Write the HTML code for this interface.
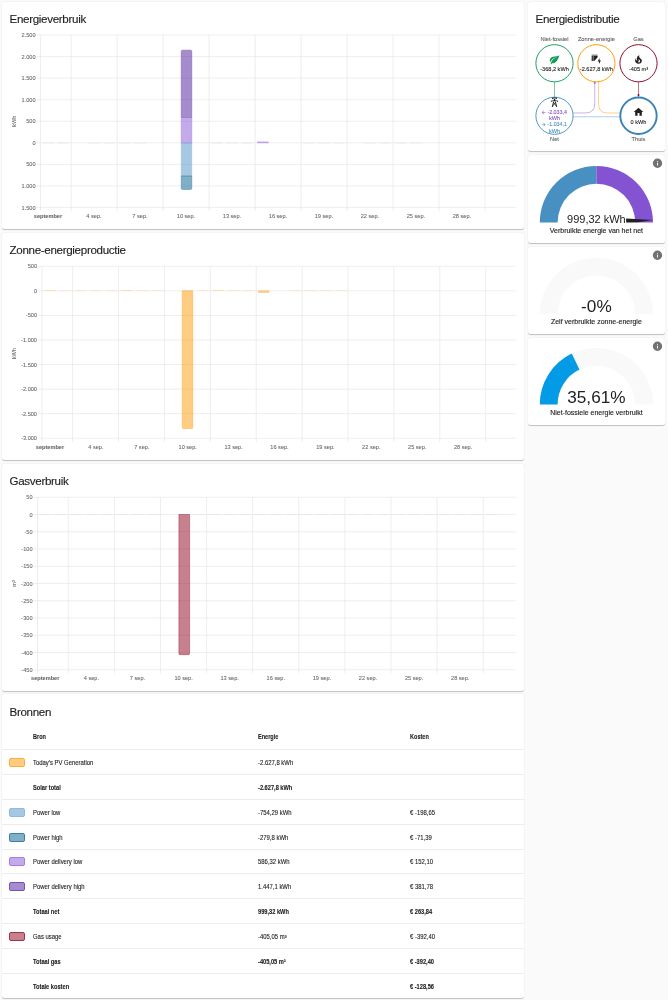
<!DOCTYPE html>
<html lang="nl">
<head>
<meta charset="utf-8">
<title>Energie</title>
<style>
html,body{margin:0;padding:0;}
body{width:668px;height:1000px;overflow:hidden;background:#fafafa;position:relative;
 font-family:"Liberation Sans",Arial,sans-serif;color:#212121;}
.card{position:absolute;background:#fff;border-radius:2px;
 box-shadow:0 0.9px 0.6px -0.5px rgba(0,0,0,.17),0 .5px .6px 0 rgba(0,0,0,.12),0 .5px 1.5px 0 rgba(0,0,0,.11);}
.card svg{position:absolute;left:0;top:0;overflow:visible;}
h1{position:absolute;margin:0;font-weight:400;font-size:11.6px;line-height:14px;white-space:nowrap;
 letter-spacing:-0.32px;color:#212121;-webkit-text-stroke:.12px #212121;}
svg text{font-family:"Liberation Sans",Arial,sans-serif;}
.tick{font-size:5.6px;fill:#666;stroke:#666;stroke-width:.07px;}
.grid{stroke:#dfdfdf;stroke-width:.55;fill:none;}
.lbl{font-size:5.7px;fill:#5f5f5f;stroke:#5f5f5f;stroke-width:.1px;}
.val{font-size:5.6px;fill:#212121;stroke:#212121;stroke-width:.1px;}
.gl{font-size:7px;fill:#212121;stroke:#212121;stroke-width:.12px;}
table{position:absolute;border-collapse:separate;border-spacing:0;table-layout:fixed;font-size:6.3px;color:#212121;-webkit-text-stroke:.1px #212121;}
td span.t,th span.t{display:inline-block;transform-origin:0 50%;transform:scaleX(.94);}
td,th{padding:0;border-top:1px solid #ededed;text-align:left;vertical-align:middle;white-space:nowrap;overflow:visible;box-sizing:border-box;}
thead th{border-top:none;font-weight:700;}
thead th span.t{transform:scaleX(.88);}
tr.tot td{font-weight:700;}
tr.tot td span.t{transform:scaleX(.9);}
.sw{display:block;box-sizing:border-box;width:16px;height:9px;border-radius:2px;border:1px solid;margin-left:7px;}
</style>
</head>
<body>

<div class="card" style="left:2px;top:2px;width:522px;height:227px">
<h1 style="left:7.5px;top:10.3px">Energieverbruik</h1>
<svg width="522" height="227" viewBox="2 2 522 227">
<path class="grid" d="M37 35H515.5"/>
<path class="grid" d="M37 56.56H515.5"/>
<path class="grid" d="M37 78.12H515.5"/>
<path class="grid" d="M37 99.69H515.5"/>
<path class="grid" d="M37 121.25H515.5"/>
<path class="grid" d="M37 142.81H515.5"/>
<path class="grid" d="M37 164.38H515.5"/>
<path class="grid" d="M37 185.94H515.5"/>
<path class="grid" d="M37 207.5H515.5"/>
<path class="grid" d="M40.5 35V211"/>
<path class="grid" d="M71.16 35V211"/>
<path class="grid" d="M117.15 35V211"/>
<path class="grid" d="M163.14 35V211"/>
<path class="grid" d="M209.13 35V211"/>
<path class="grid" d="M255.12 35V211"/>
<path class="grid" d="M301.11 35V211"/>
<path class="grid" d="M347.1 35V211"/>
<path class="grid" d="M393.09 35V211"/>
<path class="grid" d="M439.08 35V211"/>
<path class="grid" d="M485.07 35V211"/>
<text class="tick" x="35.5" y="37" text-anchor="end">2.500</text>
<text class="tick" x="35.5" y="58.56" text-anchor="end">2.000</text>
<text class="tick" x="35.5" y="80.12" text-anchor="end">1.500</text>
<text class="tick" x="35.5" y="101.69" text-anchor="end">1.000</text>
<text class="tick" x="35.5" y="123.25" text-anchor="end">500</text>
<text class="tick" x="35.5" y="144.81" text-anchor="end">0</text>
<text class="tick" x="35.5" y="166.38" text-anchor="end">500</text>
<text class="tick" x="35.5" y="187.94" text-anchor="end">1.000</text>
<text class="tick" x="35.5" y="209.5" text-anchor="end">1.500</text>
<text class="tick" transform="translate(15.6 121.25) rotate(-90)" text-anchor="middle">kWh</text>
<text class="tick" x="48" y="217.75" text-anchor="middle" font-weight="700">september</text>
<text class="tick" x="93.99" y="217.75" text-anchor="middle">4 sep.</text>
<text class="tick" x="139.98" y="217.75" text-anchor="middle">7 sep.</text>
<text class="tick" x="185.97" y="217.75" text-anchor="middle">10 sep.</text>
<text class="tick" x="231.96" y="217.75" text-anchor="middle">13 sep.</text>
<text class="tick" x="277.95" y="217.75" text-anchor="middle">16 sep.</text>
<text class="tick" x="323.94" y="217.75" text-anchor="middle">19 sep.</text>
<text class="tick" x="369.93" y="217.75" text-anchor="middle">22 sep.</text>
<text class="tick" x="415.92" y="217.75" text-anchor="middle">25 sep.</text>
<text class="tick" x="461.91" y="217.75" text-anchor="middle">28 sep.</text>
<path d="M181.25 51.4Q181.25 50.2 182.45 50.2H190.55Q191.75 50.2 191.75 51.4V117.5H181.25Z" fill="rgba(75,25,155,.5)" stroke="#7850b9" stroke-width="0.5"/>
<path d="M181.25 117.5H191.75V143H181.25Z" fill="rgba(135,85,215,.5)" stroke="#a57de1" stroke-width="0.5"/>
<path d="M181.25 143H191.75V176H181.25Z" fill="rgba(77,145,197,.5)" stroke="#8fbbdc" stroke-width="0.5"/>
<path d="M181.25 176H191.75V188.2Q191.75 189.4 190.55 189.4H182.45Q181.25 189.4 181.25 188.2Z" fill="rgba(5,95,145,.5)" stroke="#3782aa" stroke-width="0.5"/>
<rect x="257.6" y="141.9" width="10.8" height="1.1" fill="#c3aaeb" stroke="#a57de1" stroke-width=".3"/>
<rect x="42.5" y="142.8" width="11" height=".5" fill="#e3dbf0"/>
<rect x="57.83" y="142.8" width="11" height=".5" fill="#e3dbf0"/>
<rect x="88.49" y="142.8" width="11" height=".5" fill="#e3dbf0"/>
<rect x="103.82" y="142.8" width="11" height=".5" fill="#e3dbf0"/>
<rect x="119.15" y="142.8" width="11" height=".5" fill="#e3dbf0"/>
<rect x="134.48" y="142.8" width="11" height=".5" fill="#e3dbf0"/>
<rect x="211.13" y="142.8" width="11" height=".5" fill="#e3dbf0"/>
<rect x="226.46" y="142.8" width="11" height=".5" fill="#e3dbf0"/>
<rect x="241.79" y="142.8" width="11" height=".5" fill="#e3dbf0"/>
<rect x="303.11" y="142.8" width="11" height=".5" fill="#e3dbf0"/>
<rect x="318.44" y="142.8" width="11" height=".5" fill="#e3dbf0"/>
<rect x="333.77" y="142.8" width="11" height=".5" fill="#e3dbf0"/>
<rect x="364.43" y="142.8" width="11" height=".5" fill="#e3dbf0"/>
<rect x="379.76" y="142.8" width="11" height=".5" fill="#e3dbf0"/>
<rect x="395.09" y="142.8" width="11" height=".5" fill="#e3dbf0"/>
<rect x="410.42" y="142.8" width="11" height=".5" fill="#e3dbf0"/>
</svg></div>
<div class="card" style="left:2px;top:233px;width:522px;height:227px">
<h1 style="left:7.5px;top:10.3px">Zonne-energieproductie</h1>
<svg width="522" height="227" viewBox="2 233 522 227">
<path class="grid" d="M38 266.25H515.5"/>
<path class="grid" d="M38 290.82H515.5"/>
<path class="grid" d="M38 315.39H515.5"/>
<path class="grid" d="M38 339.96H515.5"/>
<path class="grid" d="M38 364.53H515.5"/>
<path class="grid" d="M38 389.1H515.5"/>
<path class="grid" d="M38 413.67H515.5"/>
<path class="grid" d="M38 438.24H515.5"/>
<path class="grid" d="M42 266.25V442"/>
<path class="grid" d="M72.6 266.25V442"/>
<path class="grid" d="M118.5 266.25V442"/>
<path class="grid" d="M164.4 266.25V442"/>
<path class="grid" d="M210.3 266.25V442"/>
<path class="grid" d="M256.2 266.25V442"/>
<path class="grid" d="M302.1 266.25V442"/>
<path class="grid" d="M348 266.25V442"/>
<path class="grid" d="M393.9 266.25V442"/>
<path class="grid" d="M439.8 266.25V442"/>
<path class="grid" d="M485.7 266.25V442"/>
<text class="tick" x="37" y="268.25" text-anchor="end">500</text>
<text class="tick" x="37" y="292.82" text-anchor="end">0</text>
<text class="tick" x="37" y="317.39" text-anchor="end">-500</text>
<text class="tick" x="37" y="341.96" text-anchor="end">-1.000</text>
<text class="tick" x="37" y="366.53" text-anchor="end">-1.500</text>
<text class="tick" x="37" y="391.1" text-anchor="end">-2.000</text>
<text class="tick" x="37" y="415.67" text-anchor="end">-2.500</text>
<text class="tick" x="37" y="440.24" text-anchor="end">-3.000</text>
<text class="tick" transform="translate(15.6 353.75) rotate(-90)" text-anchor="middle">kWh</text>
<text class="tick" x="50" y="449" text-anchor="middle" font-weight="700">september</text>
<text class="tick" x="95.9" y="449" text-anchor="middle">4 sep.</text>
<text class="tick" x="141.8" y="449" text-anchor="middle">7 sep.</text>
<text class="tick" x="187.7" y="449" text-anchor="middle">10 sep.</text>
<text class="tick" x="233.6" y="449" text-anchor="middle">13 sep.</text>
<text class="tick" x="279.5" y="449" text-anchor="middle">16 sep.</text>
<text class="tick" x="325.4" y="449" text-anchor="middle">19 sep.</text>
<text class="tick" x="371.3" y="449" text-anchor="middle">22 sep.</text>
<text class="tick" x="417.2" y="449" text-anchor="middle">25 sep.</text>
<text class="tick" x="463.1" y="449" text-anchor="middle">28 sep.</text>
<path d="M182.25 290.75H192.75V427.4Q192.75 428.6 191.55 428.6H183.45Q182.25 428.6 182.25 427.4Z" fill="rgba(255,155,5,.5)" stroke="#ffaa3c" stroke-width="0.5"/>
<path d="M258.25 290.75H269V292Q269 292.5 268.5 292.5H258.75Q258.25 292.5 258.25 292Z" fill="#ffcd82" stroke="#ffaa3c" stroke-width="0.3"/>
<rect x="44.5" y="290.2" width="11" height=".6" fill="#ffd089" opacity="1"/>
<rect x="59.8" y="290.2" width="11" height=".6" fill="#ffd089" opacity="0.5"/>
<rect x="75.1" y="290.2" width="11" height=".6" fill="#ffd089" opacity="0.5"/>
<rect x="90.4" y="290.2" width="11" height=".6" fill="#ffd089" opacity="0.5"/>
<rect x="105.7" y="290.2" width="11" height=".6" fill="#ffd089" opacity="0.5"/>
<rect x="121" y="290.2" width="11" height=".6" fill="#ffd089" opacity="1"/>
<rect x="136.3" y="290.2" width="11" height=".6" fill="#ffd089" opacity="0.5"/>
<rect x="151.6" y="290.2" width="11" height=".6" fill="#ffd089" opacity="0.5"/>
<rect x="197.5" y="290.2" width="11" height=".6" fill="#ffd089" opacity="0.5"/>
<rect x="212.8" y="290.2" width="11" height=".6" fill="#ffd089" opacity="1"/>
<rect x="228.1" y="290.2" width="11" height=".6" fill="#ffd089" opacity="0.5"/>
<rect x="243.4" y="290.2" width="11" height=".6" fill="#ffd089" opacity="0.5"/>
<rect x="289.3" y="290.2" width="11" height=".6" fill="#ffd089" opacity="0.5"/>
<rect x="304.6" y="290.2" width="11" height=".6" fill="#ffd089" opacity="0.5"/>
<rect x="319.9" y="290.2" width="11" height=".6" fill="#ffd089" opacity="0.5"/>
<rect x="335.2" y="290.2" width="11" height=".6" fill="#ffd089" opacity="0.5"/>
</svg></div>
<div class="card" style="left:2px;top:463.75px;width:522px;height:227px">
<h1 style="left:7.5px;top:10.05px">Gasverbruik</h1>
<svg width="522" height="227" viewBox="2 463.75 522 227">
<path class="grid" d="M33.5 497H515.5"/>
<path class="grid" d="M33.5 514.25H515.5"/>
<path class="grid" d="M33.5 531.5H515.5"/>
<path class="grid" d="M33.5 548.75H515.5"/>
<path class="grid" d="M33.5 566H515.5"/>
<path class="grid" d="M33.5 583.25H515.5"/>
<path class="grid" d="M33.5 600.5H515.5"/>
<path class="grid" d="M33.5 617.75H515.5"/>
<path class="grid" d="M33.5 635H515.5"/>
<path class="grid" d="M33.5 652.25H515.5"/>
<path class="grid" d="M33.5 669.5H515.5"/>
<path class="grid" d="M37.5 497V673"/>
<path class="grid" d="M68.24 497V673"/>
<path class="grid" d="M114.35 497V673"/>
<path class="grid" d="M160.46 497V673"/>
<path class="grid" d="M206.57 497V673"/>
<path class="grid" d="M252.68 497V673"/>
<path class="grid" d="M298.79 497V673"/>
<path class="grid" d="M344.9 497V673"/>
<path class="grid" d="M391.01 497V673"/>
<path class="grid" d="M437.12 497V673"/>
<path class="grid" d="M483.23 497V673"/>
<text class="tick" x="32.5" y="499" text-anchor="end">50</text>
<text class="tick" x="32.5" y="516.25" text-anchor="end">0</text>
<text class="tick" x="32.5" y="533.5" text-anchor="end">-50</text>
<text class="tick" x="32.5" y="550.75" text-anchor="end">-100</text>
<text class="tick" x="32.5" y="568" text-anchor="end">-150</text>
<text class="tick" x="32.5" y="585.25" text-anchor="end">-200</text>
<text class="tick" x="32.5" y="602.5" text-anchor="end">-250</text>
<text class="tick" x="32.5" y="619.75" text-anchor="end">-300</text>
<text class="tick" x="32.5" y="637" text-anchor="end">-350</text>
<text class="tick" x="32.5" y="654.25" text-anchor="end">-400</text>
<text class="tick" x="32.5" y="671.5" text-anchor="end">-450</text>
<text class="tick" transform="translate(15.6 583.25) rotate(-90)" text-anchor="middle">m³</text>
<text class="tick" x="45.25" y="680" text-anchor="middle" font-weight="700">september</text>
<text class="tick" x="91.36" y="680" text-anchor="middle">4 sep.</text>
<text class="tick" x="137.47" y="680" text-anchor="middle">7 sep.</text>
<text class="tick" x="183.58" y="680" text-anchor="middle">10 sep.</text>
<text class="tick" x="229.69" y="680" text-anchor="middle">13 sep.</text>
<text class="tick" x="275.8" y="680" text-anchor="middle">16 sep.</text>
<text class="tick" x="321.91" y="680" text-anchor="middle">19 sep.</text>
<text class="tick" x="368.02" y="680" text-anchor="middle">22 sep.</text>
<text class="tick" x="414.13" y="680" text-anchor="middle">25 sep.</text>
<text class="tick" x="460.24" y="680" text-anchor="middle">28 sep.</text>
<path d="M178.9 514.25H189.6V653.2Q189.6 654.4 188.4 654.4H180.1Q178.9 654.4 178.9 653.2Z" fill="rgba(143,1,27,.5)" stroke="#a53246" stroke-width="0.5"/>
<rect x="39.75" y="514" width="11" height=".5" fill="#ecd5d9" opacity=".8"/>
<rect x="55.12" y="514" width="11" height=".5" fill="#ecd5d9" opacity=".8"/>
<rect x="70.49" y="514" width="11" height=".5" fill="#ecd5d9" opacity=".8"/>
<rect x="85.86" y="514" width="11" height=".5" fill="#ecd5d9" opacity=".8"/>
<rect x="101.23" y="514" width="11" height=".5" fill="#ecd5d9" opacity=".8"/>
<rect x="116.6" y="514" width="11" height=".5" fill="#ecd5d9" opacity=".8"/>
<rect x="131.97" y="514" width="11" height=".5" fill="#ecd5d9" opacity=".8"/>
<rect x="147.34" y="514" width="11" height=".5" fill="#ecd5d9" opacity=".8"/>
<rect x="193.45" y="514" width="11" height=".5" fill="#ecd5d9" opacity=".8"/>
<rect x="208.82" y="514" width="11" height=".5" fill="#ecd5d9" opacity=".8"/>
<rect x="224.19" y="514" width="11" height=".5" fill="#ecd5d9" opacity=".8"/>
<rect x="239.56" y="514" width="11" height=".5" fill="#ecd5d9" opacity=".8"/>
<rect x="254.93" y="514" width="11" height=".5" fill="#ecd5d9" opacity=".8"/>
<rect x="270.3" y="514" width="11" height=".5" fill="#ecd5d9" opacity=".8"/>
<rect x="285.67" y="514" width="11" height=".5" fill="#ecd5d9" opacity=".8"/>
<rect x="301.04" y="514" width="11" height=".5" fill="#ecd5d9" opacity=".8"/>
<rect x="316.41" y="514" width="11" height=".5" fill="#ecd5d9" opacity=".8"/>
<rect x="331.78" y="514" width="11" height=".5" fill="#ecd5d9" opacity=".8"/>
<rect x="347.15" y="514" width="11" height=".5" fill="#ecd5d9" opacity=".8"/>
<rect x="362.52" y="514" width="11" height=".5" fill="#ecd5d9" opacity=".8"/>
<rect x="377.89" y="514" width="11" height=".5" fill="#ecd5d9" opacity=".8"/>
<rect x="393.26" y="514" width="11" height=".5" fill="#ecd5d9" opacity=".8"/>
<rect x="408.63" y="514" width="11" height=".5" fill="#ecd5d9" opacity=".8"/>
<rect x="424" y="514" width="11" height=".5" fill="#ecd5d9" opacity=".8"/>
<rect x="439.37" y="514" width="11" height=".5" fill="#ecd5d9" opacity=".8"/>
<rect x="454.74" y="514" width="11" height=".5" fill="#ecd5d9" opacity=".8"/>
<rect x="470.11" y="514" width="11" height=".5" fill="#ecd5d9" opacity=".8"/>
<rect x="485.48" y="514" width="11" height=".5" fill="#ecd5d9" opacity=".8"/>
</svg></div>
<div class="card" style="left:2px;top:694px;width:522px;height:304px">
<h1 style="left:7.5px;top:11px">Bronnen</h1>
<table style="left:0;top:30px;width:522px"><colgroup><col style="width:31px"><col style="width:225.25px"><col style="width:151.75px"><col></colgroup>
<thead><tr style="height:25px"><th></th><th><span class="t">Bron</span></th><th><span class="t">Energie</span></th><th><span class="t">Kosten</span></th></tr></thead><tbody>
<tr style="height:25px"><td><span class="sw" style="background:#ffcd82;border-color:#ffaa3c"></span></td><td><span class="t">Today's PV Generation</span></td><td><span class="t">-2.627,8 kWh</span></td><td></td></tr>
<tr class="tot" style="height:25px"><td></td><td><span class="t">Solar total</span></td><td><span class="t">-2.627,8 kWh</span></td><td></td></tr>
<tr style="height:25px"><td><span class="sw" style="background:#a6c8e2;border-color:#8fbbdc"></span></td><td><span class="t">Power low</span></td><td><span class="t">-754,29 kWh</span></td><td><span class="t">€ -198,65</span></td></tr>
<tr style="height:25px"><td><span class="sw" style="background:#82afc8;border-color:#3782aa"></span></td><td><span class="t">Power high</span></td><td><span class="t">-279,8 kWh</span></td><td><span class="t">€ -71,39</span></td></tr>
<tr style="height:24px"><td><span class="sw" style="background:#c3aaeb;border-color:#a57de1"></span></td><td><span class="t">Power delivery low</span></td><td><span class="t">586,32 kWh</span></td><td><span class="t">€ 152,10</span></td></tr>
<tr style="height:25px"><td><span class="sw" style="background:#a58ccd;border-color:#7850b9"></span></td><td><span class="t">Power delivery high</span></td><td><span class="t">1.447,1 kWh</span></td><td><span class="t">€ 381,78</span></td></tr>
<tr class="tot" style="height:25px"><td></td><td><span class="t">Totaal net</span></td><td><span class="t">999,32 kWh</span></td><td><span class="t">€ 263,84</span></td></tr>
<tr style="height:25px"><td><span class="sw" style="background:#c7808d;border-color:#a53246"></span></td><td><span class="t">Gas usage</span></td><td><span class="t">-405,05 m³</span></td><td><span class="t">€ -392,40</span></td></tr>
<tr class="tot" style="height:25px"><td></td><td><span class="t">Totaal gas</span></td><td><span class="t">-405,05 m³</span></td><td><span class="t">€ -392,40</span></td></tr>
<tr class="tot" style="height:25px"><td></td><td><span class="t">Totale kosten</span></td><td></td><td><span class="t">€ -128,56</span></td></tr>
</tbody></table></div>
<div class="card" style="left:528px;top:2px;width:136.8px;height:149.25px">
<h1 style="left:7.5px;top:10.3px">Energiedistributie</h1>
<svg width="136.8" height="149.25" viewBox="528 2 136.8 149.25">
<text class="lbl" x="554.5" y="41" text-anchor="middle">Niet-fossiel</text>
<text class="lbl" x="596.4" y="41" text-anchor="middle">Zonne-energie</text>
<text class="lbl" x="638.5" y="41" text-anchor="middle">Gas</text>
<text class="lbl" x="554.5" y="141" text-anchor="middle">Net</text>
<text class="lbl" x="638.5" y="141" text-anchor="middle">Thuis</text>
<path d="M554.5 81.85V97.15" stroke="#0f9d58" stroke-width=".55" fill="none"/>
<path d="M638.5 81.85V97.15" stroke="#8e021b" stroke-width=".55" fill="none"/>
<circle cx="638.5" cy="95" r="1" fill="#8e021b"/>
<path d="M594.75 81.85V103.5Q594.75 113 585.5 113H573.1" stroke="#8353d1" stroke-width=".55" fill="none" opacity=".8"/>
<circle cx="594.75" cy="82.8" r=".9" fill="#8353d1"/>
<path d="M598.5 81.85V103.5Q598.5 113 607.5 113H619.9" stroke="#ff9800" stroke-width=".55" fill="none" opacity=".85"/>
<path d="M573.1 116.75H619.9" stroke="#488fc2" stroke-width=".55" fill="none" opacity=".8"/>
<circle cx="554.5" cy="63.25" r="18.6" fill="#fff" stroke="#0f9d58" stroke-width=".95"/>
<circle cx="596.4" cy="63.25" r="18.6" fill="#fff" stroke="#ff9800" stroke-width=".95"/>
<circle cx="638.5" cy="63.25" r="18.6" fill="#fff" stroke="#8e021b" stroke-width=".95"/>
<circle cx="554.5" cy="115.75" r="18.6" fill="#fff" stroke="#488fc2" stroke-width=".95"/>
<circle cx="638.5" cy="115.75" r="18.200000000000003" fill="#fff" stroke="#3a82b8" stroke-width="1.9"/>
<path transform="translate(548.8 53.8) scale(0.4750)" d="M17,8C8,10 5.9,16.17 3.82,21.34L5.71,22L6.66,19.7C7.14,19.87 7.64,20 8,20C19,20 22,3 22,3C21,5 14,5.25 9,6.25C4,7.25 2,11.5 2,13.5C2,15.5 3.75,17.25 3.75,17.25C7,8 17,8 17,8Z" fill="#0f9d58"/>
<path transform="translate(590.7 53.8) scale(0.4750)" d="M2,2H14.6V3.6H2ZM2,4.6H4.6V15H2ZM5.6,4.6H14.6V7.5L7.5,15H5.6ZM18.6,8.8L14.6,16.2H17.4V21.5L21.6,14H18.6Z" fill="#212121"/>
<path transform="translate(632.8 53.8) scale(0.4750)" d="M17.66 11.2C17.43 10.9 17.15 10.64 16.89 10.38C16.22 9.78 15.46 9.35 14.82 8.72C13.33 7.26 13 4.85 13.95 3C13 3.23 12.17 3.75 11.46 4.32C8.87 6.4 7.85 10.07 9.07 13.22C9.11 13.32 9.15 13.42 9.15 13.55C9.15 13.77 9 13.97 8.8 14.05C8.57 14.15 8.33 14.09 8.14 13.93C8.08 13.88 8.04 13.83 8 13.76C6.87 12.33 6.69 10.28 7.45 8.64C5.78 10 4.87 12.3 5 14.47C5.06 14.97 5.12 15.47 5.29 15.97C5.43 16.57 5.7 17.17 6 17.7C7.08 19.43 8.95 20.67 10.96 20.92C13.1 21.19 15.39 20.8 17.03 19.32C18.86 17.66 19.5 15 18.56 12.72L18.43 12.46C18.22 12 17.66 11.2 17.66 11.2M14.5 17.5C14.22 17.74 13.76 18 13.4 18.1C12.28 18.5 11.16 17.94 10.5 17.28C11.69 17 12.4 16.12 12.61 15.23C12.78 14.43 12.46 13.77 12.33 13C12.21 12.26 12.23 11.63 12.5 10.94C12.69 11.32 12.89 11.7 13.13 12C13.9 13 15.11 13.44 15.37 14.8C15.41 14.94 15.43 15.08 15.43 15.23C15.46 16.05 15.1 16.95 14.5 17.5H14.5Z" fill="#212121"/>
<path transform="translate(548.8 96.6) scale(0.4750)" d="M8.28,5.45L6.5,4.55L7.76,2H16.23L17.5,4.55L15.72,5.44L15,4H9L8.28,5.45M18.62,8H14.09L13.3,5H10.7L9.91,8H5.38L4.1,10.55L5.89,11.44L6.62,10H17.38L18.1,11.45L19.89,10.56L18.62,8M17.77,22H15.7L15.46,21.1L12,15.9L8.53,21.1L8.3,22H6.23L9.12,11H11.19L10.83,12.35L12,14.1L13.16,12.35L12.81,11H14.88L17.77,22M11.4,15L10.5,13.65L9.32,18.13L11.4,15M14.68,18.12L13.5,13.64L12.6,15L14.68,18.12Z" fill="#212121"/>
<path transform="translate(632.8 106.3) scale(0.4750)" d="M10,20V14H14V20H19V12H22L12,3L2,12H5V20H10Z" fill="#212121"/>
<text class="val" x="554.5" y="70.8" text-anchor="middle">-368,2 kWh</text>
<text class="val" x="596.4" y="70.8" text-anchor="middle">-2.627,8 kWh</text>
<text class="val" x="638.5" y="70.8" text-anchor="middle">-405 m³</text>
<text class="val" x="638.5" y="123.8" text-anchor="middle">0 kWh</text>
<path transform="translate(540.9 109.5) scale(.233)" d="M20,11V13H8L13.5,18.5L12.08,19.92L4.16,12L12.08,4.08L13.5,5.5L8,11H20Z" fill="#8353d1"/>
<text class="val" x="547.4" y="114.2" textLength="19.6" lengthAdjust="spacingAndGlyphs" style="fill:#8353d1;stroke:#8353d1">-2.033,4</text>
<text class="val" x="554.5" y="120.4" text-anchor="middle" style="fill:#8353d1;stroke:#8353d1">kWh</text>
<path transform="translate(540.9 121.8) scale(.233)" d="M4,11V13H16L10.5,18.5L11.92,19.92L19.84,12L11.92,4.08L10.5,5.5L16,11H4Z" fill="#488fc2"/>
<text class="val" x="547.6" y="126.5" textLength="19.2" lengthAdjust="spacingAndGlyphs" style="fill:#488fc2;stroke:#488fc2">-1.034,1</text>
<text class="val" x="554.5" y="132.8" text-anchor="middle" style="fill:#488fc2;stroke:#488fc2">kWh</text>
</svg></div>
<div class="card" style="left:528px;top:155px;width:136.8px;height:87.5px">
<svg width="136.8" height="87.5" viewBox="528 155 136.8 87.5">
<path d="M539.8 222.5A56.6 56.6 0 0 1 653 222.5L635.2 222.5A38.8 38.8 0 0 0 557.6 222.5Z" fill="#f9f9f9"/>
<path d="M539.8 222.5A56.6 56.6 0 0 1 596.4 165.9L596.4 183.7A38.8 38.8 0 0 0 557.6 222.5Z" fill="#488fc2"/>
<path d="M596.4 165.9A56.6 56.6 0 0 1 653 222.5L635.2 222.5A38.8 38.8 0 0 0 596.4 183.7Z" fill="#8353d1"/>
<text x="596.4" y="223" text-anchor="middle" font-size="11" fill="#212121">999,32 kWh</text>
<clipPath id="nc"><rect x="600" y="202.5" width="60" height="20"/></clipPath>
<g clip-path="url(#nc)"><path transform="rotate(-2.5 596.4 222.5)" d="M626.2 219.7L653 222.5L626.2 225.3Z" fill="#212121"/></g>
<text class="gl" x="596.4" y="233.15" text-anchor="middle">Verbruikte energie van het net</text>
<path transform="translate(651.9 157.65) scale(0.4667)" d="M13,9H11V7H13M13,17H11V11H13M12,2A10,10 0 0,0 2,12A10,10 0 0,0 12,22A10,10 0 0,0 22,12A10,10 0 0,0 12,2Z" fill="#727272"/>
</svg></div>
<div class="card" style="left:528px;top:246.5px;width:136.8px;height:87.25px">
<svg width="136.8" height="87.25" viewBox="528 246.5 136.8 87.25">
<path d="M539.8 313.75A56.6 56.6 0 0 1 653 313.75L635.2 313.75A38.8 38.8 0 0 0 557.6 313.75Z" fill="#f9f9f9"/>
<text x="596.4" y="311.7" text-anchor="middle" font-size="17.2" fill="#212121">-0%</text>
<text class="gl" x="596.4" y="323.79999999999995" text-anchor="middle">Zelf verbruikte zonne-energie</text>
<path transform="translate(651.9 249.15) scale(0.4667)" d="M13,9H11V7H13M13,17H11V11H13M12,2A10,10 0 0,0 2,12A10,10 0 0,0 12,22A10,10 0 0,0 22,12A10,10 0 0,0 12,2Z" fill="#727272"/>
</svg></div>
<div class="card" style="left:528px;top:338px;width:136.8px;height:86.5px">
<svg width="136.8" height="86.5" viewBox="528 338 136.8 86.5">
<path d="M539.8 404.5A56.6 56.6 0 0 1 653 404.5L635.2 404.5A38.8 38.8 0 0 0 557.6 404.5Z" fill="#f9f9f9"/>
<path d="M539.8 404.5A56.6 56.6 0 0 1 571.68 353.59L579.45 369.6A38.8 38.8 0 0 0 557.6 404.5Z" fill="#039be5"/>
<text x="596.4" y="403.2" text-anchor="middle" font-size="17.2" fill="#212121">35,61%</text>
<text class="gl" x="596.4" y="415.2" text-anchor="middle">Niet-fossiele energie verbruikt</text>
<path transform="translate(651.9 340.65) scale(0.4667)" d="M13,9H11V7H13M13,17H11V11H13M12,2A10,10 0 0,0 2,12A10,10 0 0,0 12,22A10,10 0 0,0 22,12A10,10 0 0,0 12,2Z" fill="#727272"/>
</svg></div>
</body></html>
